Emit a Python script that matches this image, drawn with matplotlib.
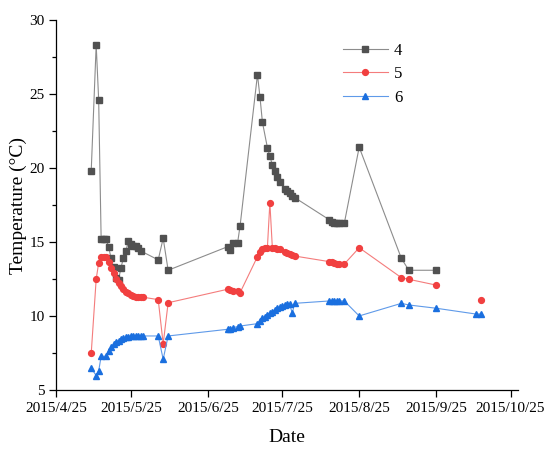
import matplotlib
matplotlib.use("Agg")
import matplotlib.pyplot as plt
import matplotlib.dates as mdates
from matplotlib.ticker import MultipleLocator, FuncFormatter
import pandas as pd

# series "4" (grey squares)
gray_dates = [
    "2015-05-09", "2015-05-11", "2015-05-12", "2015-05-13", "2015-05-14", "2015-05-15",
    "2015-05-16", "2015-05-17", "2015-05-18", "2015-05-19", "2015-05-20", "2015-05-21",
    "2015-05-22", "2015-05-23", "2015-05-24", "2015-05-25", "2015-05-26", "2015-05-27",
    "2015-05-28", "2015-05-29",
    "2015-06-05", "2015-06-07", "2015-06-09",
    "2015-07-03", "2015-07-04", "2015-07-05", "2015-07-07", "2015-07-08",
    "2015-07-15", "2015-07-16", "2015-07-17", "2015-07-19", "2015-07-20", "2015-07-21",
    "2015-07-22", "2015-07-23", "2015-07-24", "2015-07-26", "2015-07-27", "2015-07-28",
    "2015-07-29", "2015-07-30",
    "2015-08-13", "2015-08-14", "2015-08-15", "2015-08-16", "2015-08-17", "2015-08-19",
    "2015-08-25", "2015-09-11", "2015-09-14", "2015-09-25",
]
gray_temps = [
    19.8, 28.3, 24.6, 15.2, 15.2, 15.2,
    14.7, 13.9, 13.3, 12.55, 12.45, 13.27,
    13.95, 14.4, 15.1, 14.9, 14.75, 14.75,
    14.6, 14.4,
    13.8, 15.26, 13.1,
    14.69, 14.47, 14.96, 14.96, 16.1,
    26.29, 24.8, 23.08, 21.37, 20.8, 20.2,
    19.8, 19.37, 19.07, 18.6, 18.45, 18.3,
    18.1, 18.0,
    16.5, 16.38, 16.27, 16.27, 16.27, 16.27,
    21.4, 13.9, 13.1, 13.1,
]

# series "5" (red circles)
red_dates = [
    "2015-05-09", "2015-05-11", "2015-05-12", "2015-05-13", "2015-05-14", "2015-05-15",
    "2015-05-16", "2015-05-17", "2015-05-18", "2015-05-19", "2015-05-20", "2015-05-21",
    "2015-05-22", "2015-05-23", "2015-05-24", "2015-05-25", "2015-05-26", "2015-05-27",
    "2015-05-28", "2015-05-29", "2015-05-30",
    "2015-06-05", "2015-06-07", "2015-06-09",
    "2015-07-03", "2015-07-04", "2015-07-05", "2015-07-07", "2015-07-08",
    "2015-07-15", "2015-07-16", "2015-07-17", "2015-07-18", "2015-07-19", "2015-07-20",
    "2015-07-21", "2015-07-22", "2015-07-23", "2015-07-24", "2015-07-26", "2015-07-27",
    "2015-07-28", "2015-07-29", "2015-07-30",
    "2015-08-13", "2015-08-14", "2015-08-15", "2015-08-16", "2015-08-17", "2015-08-19",
    "2015-08-25", "2015-09-11", "2015-09-14", "2015-09-25",
]
red_temps = [
    7.5, 12.5, 13.6, 14.0, 14.0, 14.0,
    13.64, 13.23, 12.94, 12.49, 12.26, 12.04,
    11.82, 11.66, 11.55, 11.45, 11.39, 11.32,
    11.28, 11.28, 11.28,
    11.12, 8.13, 10.91,
    11.82, 11.8, 11.72, 11.68, 11.59,
    14.02, 14.35, 14.51, 14.58, 14.62, 17.66,
    14.62, 14.58, 14.51, 14.51, 14.35, 14.28,
    14.2, 14.13, 14.06,
    13.68, 13.64, 13.57, 13.52, 13.52, 13.52,
    14.62, 12.6, 12.49, 12.1,
]
red_late_dates = ["2015-10-13"]
red_late_temps = [11.1]

# series "6" (blue triangles)
blue_dates = [
    "2015-05-09", "2015-05-11", "2015-05-12", "2015-05-13", "2015-05-15", "2015-05-16",
    "2015-05-17", "2015-05-18", "2015-05-19", "2015-05-20", "2015-05-21", "2015-05-22",
    "2015-05-23", "2015-05-24", "2015-05-25", "2015-05-26", "2015-05-27", "2015-05-28",
    "2015-05-29", "2015-05-30",
    "2015-06-05", "2015-06-07", "2015-06-09",
    "2015-07-03", "2015-07-04", "2015-07-05", "2015-07-07", "2015-07-08",
    "2015-07-15", "2015-07-16", "2015-07-17", "2015-07-18", "2015-07-19", "2015-07-20",
    "2015-07-21", "2015-07-22", "2015-07-23", "2015-07-24", "2015-07-25", "2015-07-26",
    "2015-07-27", "2015-07-28", "2015-07-29", "2015-07-30",
    "2015-08-13", "2015-08-14", "2015-08-15", "2015-08-16", "2015-08-17", "2015-08-19",
    "2015-08-25", "2015-09-11", "2015-09-14", "2015-09-25", "2015-10-11", "2015-10-13",
]
blue_temps = [
    6.5, 6.0, 6.3, 7.3, 7.3, 7.68,
    7.9, 8.1, 8.24, 8.35, 8.45, 8.51,
    8.58, 8.62, 8.67, 8.67, 8.67, 8.67,
    8.67, 8.67,
    8.67, 7.1, 8.67,
    9.12, 9.12, 9.23, 9.3, 9.34,
    9.5, 9.7, 9.86, 9.97, 10.08, 10.2,
    10.3, 10.45, 10.54, 10.62, 10.69, 10.76,
    10.8, 10.83, 10.2, 10.87,
    11.03, 11.03, 11.03, 11.03, 11.03, 11.03,
    10.02, 10.87, 10.76, 10.54, 10.15, 10.15,
]

tick_dates = ["2015-04-25", "2015-05-25", "2015-06-25", "2015-07-25",
              "2015-08-25", "2015-09-25", "2015-10-25"]

plt.rcParams["font.family"] = ["Liberation Serif", "DejaVu Serif"]

fig = plt.figure(figsize=(5.5, 4.54), dpi=100)
ax = fig.add_axes([0.1027, 0.1401, 0.8391, 0.8167])

# marker colour, then the thinner/lighter connecting line colour
gray, gray_ln = "#515151", "#8c8c8c"
red, red_ln = "#F14040", "#f47c7c"
blue, blue_ln = "#1A6FDF", "#5f9ae9"

ax.plot(pd.to_datetime(gray_dates), gray_temps, color=gray_ln, lw=0.8,
        marker="s", ms=3.8, mfc=gray, mec=gray, label="4")
ax.plot(pd.to_datetime(red_dates), red_temps, color=red_ln, lw=0.8,
        marker="o", ms=4.2, mfc=red, mec=red, label="5")
ax.plot(pd.to_datetime(red_late_dates), red_late_temps, lw=0,
        marker="o", ms=4.2, mfc=red, mec=red)
ax.plot(pd.to_datetime(blue_dates), blue_temps, color=blue_ln, lw=0.8,
        marker="^", ms=4.6, mfc=blue, mec=blue, label="6")

ax.set_xlim(pd.Timestamp("2015-04-25"), pd.Timestamp("2015-10-28"))
ax.set_ylim(5, 30)
ax.set_xticks(pd.to_datetime(tick_dates))


def date_label(x, pos):
    d = mdates.num2date(x)
    return f"{d.year}/{d.month}/{d.day}"


ax.xaxis.set_major_formatter(FuncFormatter(date_label))
ax.yaxis.set_major_locator(MultipleLocator(5))
ax.yaxis.set_minor_locator(MultipleLocator(2.5))

ax.spines["top"].set_visible(False)
ax.spines["right"].set_visible(False)
for s in ("left", "bottom"):
    ax.spines[s].set_linewidth(0.9)
ax.tick_params(which="major", direction="out", length=5, width=0.9, labelsize=11)
ax.tick_params(which="minor", direction="out", length=3, width=0.9)

ax.set_xlabel("Date", fontsize=14, labelpad=10)
ax.set_ylabel("Temperature (°C)", fontsize=14, labelpad=2)

ax.legend(loc="upper left", bbox_to_anchor=(0.6236, 0.906),
          bbox_transform=fig.transFigure, frameon=False, fontsize=12,
          handlelength=2.7, handletextpad=0.35, labelspacing=0.45,
          borderpad=0, borderaxespad=0, numpoints=1)

fig.savefig("out.png", dpi=100)
